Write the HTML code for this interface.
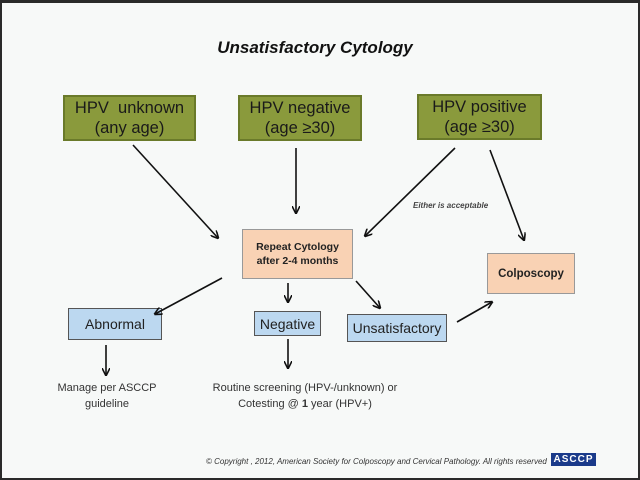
<!DOCTYPE html>
<html><head><meta charset="utf-8"><style>
html,body{margin:0;padding:0}
body{width:640px;height:480px;background:#2a2a2a;position:relative;overflow:hidden;font-family:"Liberation Sans",sans-serif}
#pg{position:absolute;left:2px;top:3px;width:636px;height:475px;background:#f7f9f8}
.b{position:absolute;box-sizing:border-box;display:flex;align-items:center;justify-content:center;text-align:center}
.g{background:#8a9a3c;border:2px solid #6a7a2a;color:#1a1a1a;font-size:16.5px;line-height:20px}
.o{background:#f9d2b4;border:1px solid #999;color:#222;font-weight:bold;font-size:10.5px;line-height:14px}
.bl{background:#bcd8f0;border:1px solid #555;color:#222;font-size:14px}
.t{position:absolute;text-align:center;font-size:11px;color:#333;line-height:16px}
</style></head><body>
<div id="pg"></div>
<div class="t" style="left:160px;top:40px;width:310px;font-size:17px;font-weight:bold;font-style:italic;color:#111">Unsatisfactory Cytology</div>
<div class="b g" style="left:63px;top:95px;width:133px;height:46px">HPV&nbsp; unknown<br>(any age)</div>
<div class="b g" style="left:238px;top:95px;width:124px;height:46px">HPV negative<br>(age ≥30)</div>
<div class="b g" style="left:417px;top:94px;width:125px;height:46px">HPV positive<br>(age ≥30)</div>
<div class="b o" style="left:242px;top:229px;width:111px;height:50px">Repeat Cytology<br>after 2-4 months</div>
<div class="b o" style="left:487px;top:253px;width:88px;height:41px;font-size:11.5px">Colposcopy</div>
<div class="b bl" style="left:68px;top:308px;width:94px;height:32px">Abnormal</div>
<div class="b bl" style="left:254px;top:311px;width:67px;height:25px">Negative</div>
<div class="b bl" style="left:347px;top:314px;width:100px;height:28px">Unsatisfactory</div>
<div class="t" style="left:413px;top:198px;font-size:8px;font-style:italic;font-weight:bold;color:#444">Either is acceptable</div>
<div class="t" style="left:40px;top:380px;width:134px">Manage per ASCCP<br>guideline</div>
<div class="t" style="left:170px;top:380px;width:270px">Routine screening (HPV-/unknown) or<br>Cotesting @ <b>1</b> year (HPV+)</div>
<div class="t" style="left:206px;top:454px;font-size:8px;font-style:italic;color:#333;white-space:nowrap">© Copyright , 2012, American Society for Colposcopy and Cervical Pathology. All rights reserved</div>
<div style="position:absolute;left:551px;top:453px;width:45px;height:13px;background:#1a3a8a;color:#fff;font-size:10px;font-weight:bold;text-align:center;line-height:13px;letter-spacing:1px;z-index:2">ASCCP</div>
<svg width="640" height="480" style="position:absolute;left:0;top:0">
<defs><marker id="a" markerWidth="8" markerHeight="8" refX="7" refY="4" orient="auto" markerUnits="userSpaceOnUse"><path d="M0,0 L8,4 L0,8" fill="none" stroke="#111" stroke-width="1.6"/></marker></defs>
<g stroke="#111" stroke-width="1.6" marker-end="url(#a)">
<line x1="133" y1="145" x2="218" y2="238"/>
<line x1="296" y1="148" x2="296" y2="213"/>
<line x1="455" y1="148" x2="365" y2="236"/>
<line x1="490" y1="150" x2="524" y2="240"/>
<line x1="222" y1="278" x2="155" y2="314"/>
<line x1="288" y1="283" x2="288" y2="302"/>
<line x1="356" y1="281" x2="380" y2="308"/>
<line x1="457" y1="322" x2="492" y2="302"/>
<line x1="106" y1="345" x2="106" y2="375"/>
<line x1="288" y1="339" x2="288" y2="368"/>
</g>
</svg>
</body></html>
